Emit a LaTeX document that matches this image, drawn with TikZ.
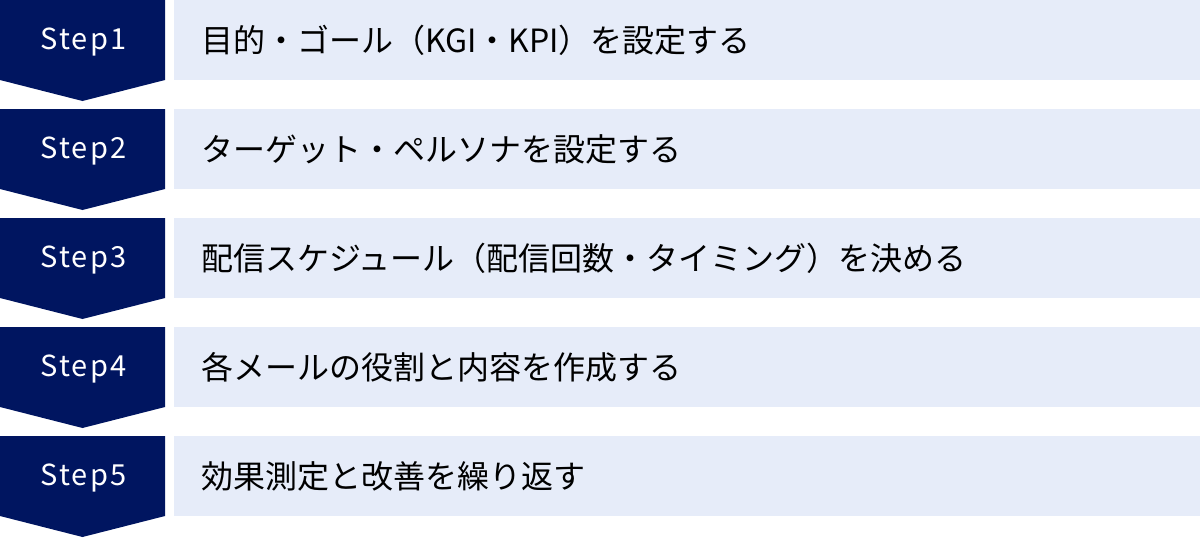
\documentclass[tikz,border=0pt]{standalone}
\usepackage{fontspec}
\setmainfont{Noto Sans CJK JP}
\newfontfamily\stepfont[LetterSpace=7]{Noto Sans CJK JP}
\usetikzlibrary{positioning}
\definecolor{stepnavy}{RGB}{0,21,96}
\definecolor{boxblue}{RGB}{230,236,249}
\newcommand{\stepw}{165}
\newcommand{\steph}{80}
\newcommand{\tipd}{21}
\tikzset{
  steplabel/.style={text=white, font=\stepfont\fontsize{29}{29}\selectfont, inner sep=0pt},
  stepbox/.style={fill=boxblue, draw=none, minimum width=1026pt, minimum height=80pt, inner sep=0pt},
  boxtext/.style={text=black, font=\fontsize{32}{32}\selectfont, inner sep=0pt, anchor=west}
}

\begin{document}
\begin{tikzpicture}[x=1pt,y=-1pt]
\useasboundingbox (0,0) rectangle (1200,538);
%Step1
\fill[stepnavy] (0,0) -- (\stepw,0) -- (\stepw,\steph) -- (\stepw/2,\steph+\tipd) -- (0,\steph) -- cycle;
\node[steplabel] (s1) at (\stepw/2+1,42) {Step1};
\node[stepbox] (b1) at (687,40) {};
\node[boxtext] (t1) at ([xshift=27pt]b1.west) {目的・ゴール（KGI・KPI）を設定する};
%Step2
\fill[stepnavy] (0,109) -- (\stepw,109) -- (\stepw,109+\steph) -- (\stepw/2,109+\steph+\tipd) -- (0,109+\steph) -- cycle;
\node[steplabel] (s2) at (\stepw/2+1,151) {Step2};
\node[stepbox] (b2) at (687,149) {};
\node[boxtext] (t2) at ([xshift=27pt]b2.west) {ターゲット・ペルソナを設定する};
%Step3
\fill[stepnavy] (0,218) -- (\stepw,218) -- (\stepw,218+\steph) -- (\stepw/2,218+\steph+\tipd) -- (0,218+\steph) -- cycle;
\node[steplabel] (s3) at (\stepw/2+1,260) {Step3};
\node[stepbox] (b3) at (687,258) {};
\node[boxtext] (t3) at ([xshift=27pt]b3.west) {配信スケジュール（配信回数・タイミング）を決める};
%Step4
\fill[stepnavy] (0,327) -- (\stepw,327) -- (\stepw,327+\steph) -- (\stepw/2,327+\steph+\tipd) -- (0,327+\steph) -- cycle;
\node[steplabel] (s4) at (\stepw/2+1,369) {Step4};
\node[stepbox] (b4) at (687,367) {};
\node[boxtext] (t4) at ([xshift=27pt]b4.west) {各メールの役割と内容を作成する};
%Step5
\fill[stepnavy] (0,436) -- (\stepw,436) -- (\stepw,436+\steph) -- (\stepw/2,436+\steph+\tipd) -- (0,436+\steph) -- cycle;
\node[steplabel] (s5) at (\stepw/2+1,478) {Step5};
\node[stepbox] (b5) at (687,476) {};
\node[boxtext] (t5) at ([xshift=27pt]b5.west) {効果測定と改善を繰り返す};
\end{tikzpicture}
\end{document}
